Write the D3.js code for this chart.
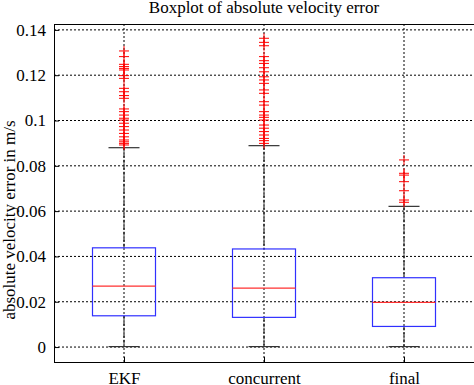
<!DOCTYPE html>
<html>
<head>
<meta charset="utf-8">
<script src="https://cdn.jsdelivr.net/npm/d3@7"></script>
<style>
  body { margin: 0; background: #fff; }
  svg { display: block; font-family: "Liberation Serif", "DejaVu Serif", serif; }
  svg text { font-family: "Liberation Serif", "DejaVu Serif", serif; }
</style>
</head>
<body>
<svg id="chart" width="474" height="385"></svg>
<script>
var categories = ['EKF', 'concurrent', 'final'];
var q1 = [0.0138, 0.0131, 0.0091];
var medians = [0.0269, 0.0260, 0.0197];
var q3 = [0.0438, 0.0433, 0.0306];
var lowerWhisker = [0.0002, 0.0002, 0.0002];
var upperWhisker = [0.0880, 0.0889, 0.0621];
var outliersEKF = [0.1307, 0.1282, 0.1248, 0.1238, 0.1230, 0.1223, 0.1198, 0.1186, 0.1142, 0.1127,
    0.1110, 0.1098, 0.1051, 0.1039, 0.1024, 0.1010, 0.1002, 0.0988, 0.0973, 0.0958, 0.0943,
    0.0928, 0.0914, 0.0906, 0.0899, 0.0892];
var outliersConcurrent = [0.1363, 0.1345, 0.1330, 0.1282, 0.1264, 0.1252, 0.1233, 0.1215, 0.1193,
    0.1179, 0.1164, 0.1135, 0.1120, 0.1083, 0.1068, 0.1039, 0.1024, 0.1014, 0.1002, 0.0980,
    0.0966, 0.0951, 0.0936, 0.0921, 0.0911, 0.0899];
var outliersFinal = [0.0826, 0.0767, 0.0759, 0.0730, 0.0690, 0.0649, 0.0639];
var yTicks = [0, 0.02, 0.04, 0.06, 0.08, 0.1, 0.12, 0.14];

var svg = d3.select('#chart');
var plotLeft = 54, plotRight = 474, plotTop = 24, plotBottom = 362;
var fontSize = 17;

var x = d3.scaleLinear().domain([0.5, 3.5]).range([plotLeft, plotRight]);
var y = d3.scaleLinear().domain([-0.0066, 0.1426]).range([plotBottom, plotTop]);

// grid
svg.append('g').selectAll('line').data(yTicks).enter().append('line')
    .attr('x1', plotLeft).attr('x2', plotRight)
    .attr('y1', function (d) { return y(d); }).attr('y2', function (d) { return y(d); })
    .attr('stroke', '#000').attr('stroke-width', 1).attr('stroke-dasharray', '2,2');
svg.append('g').selectAll('line').data(categories).enter().append('line')
    .attr('x1', function (d, i) { return x(i + 1); }).attr('x2', function (d, i) { return x(i + 1); })
    .attr('y1', plotTop).attr('y2', plotBottom)
    .attr('stroke', '#000').attr('stroke-width', 1).attr('stroke-dasharray', '2,2');

// axes
var yAxis = d3.axisLeft(y).tickValues(yTicks).tickSize(-5).tickPadding(8)
    .tickFormat(function (d) { return d === 0 ? '0' : String(+d.toFixed(2)); });
var gy = svg.append('g').attr('transform', 'translate(' + plotLeft + ',0)').call(yAxis)
    .attr('font-family', null).attr('font-size', fontSize);
gy.select('.domain').remove();
gy.selectAll('text').attr('fill', '#000');

var xAxis = d3.axisBottom(x).tickValues([1, 2, 3]).tickSize(-5).tickPadding(10)
    .tickFormat(function (d) { return categories[d - 1]; });
var gx = svg.append('g').attr('transform', 'translate(0,' + plotBottom + ')').call(xAxis)
    .attr('font-family', null).attr('font-size', fontSize);
gx.select('.domain').remove();
gx.selectAll('text').attr('fill', '#000');

svg.append('rect').attr('x', plotLeft + 0.5).attr('y', plotTop + 0.5)
    .attr('width', plotRight - plotLeft + 2).attr('height', plotBottom - plotTop)
    .attr('fill', 'none').attr('stroke', '#000').attr('stroke-width', 1);

// boxes
var halfBox = 31.5, halfCap = 15.5;
var boxes = svg.append('g').selectAll('g').data(categories).enter().append('g');

boxes.append('line')
    .attr('x1', function (d, i) { return x(i + 1); }).attr('x2', function (d, i) { return x(i + 1); })
    .attr('y1', function (d, i) { return y(upperWhisker[i]); }).attr('y2', function (d, i) { return y(q3[i]); })
    .attr('stroke', '#000').attr('stroke-dasharray', '4,2');
boxes.append('line')
    .attr('x1', function (d, i) { return x(i + 1); }).attr('x2', function (d, i) { return x(i + 1); })
    .attr('y1', function (d, i) { return y(q1[i]); }).attr('y2', function (d, i) { return y(lowerWhisker[i]); })
    .attr('stroke', '#000').attr('stroke-dasharray', '4,2');

[upperWhisker, lowerWhisker].forEach(function (arr) {
    boxes.append('line')
        .attr('x1', function (d, i) { return x(i + 1) - halfCap; }).attr('x2', function (d, i) { return x(i + 1) + halfCap; })
        .attr('y1', function (d, i) { return y(arr[i]); }).attr('y2', function (d, i) { return y(arr[i]); })
        .attr('stroke', '#333').attr('stroke-width', 1.2);
});

boxes.append('rect')
    .attr('x', function (d, i) { return x(i + 1) - halfBox; })
    .attr('y', function (d, i) { return y(q3[i]); })
    .attr('width', halfBox * 2)
    .attr('height', function (d, i) { return y(q1[i]) - y(q3[i]); })
    .attr('fill', 'none').attr('stroke', '#3030ff').attr('stroke-width', 1.2);

boxes.append('line')
    .attr('x1', function (d, i) { return x(i + 1) - halfBox; }).attr('x2', function (d, i) { return x(i + 1) + halfBox; })
    .attr('y1', function (d, i) { return y(medians[i]); }).attr('y2', function (d, i) { return y(medians[i]); })
    .attr('stroke', '#ff3030').attr('stroke-width', 1.2);

// outliers
var outliers = [outliersEKF, outliersConcurrent, outliersFinal];
outliers.forEach(function (list, i) {
    svg.append('g').selectAll('path').data(list).enter().append('path')
        .attr('d', function (v) {
            var cx = x(i + 1), cy = y(v);
            return 'M' + (cx - 5) + ',' + cy + 'H' + (cx + 5) + 'M' + cx + ',' + (cy - 5) + 'V' + (cy + 5);
        })
        .attr('stroke', '#ff0000').attr('stroke-width', 1).attr('fill', 'none');
});

// title and label
svg.append('text').attr('x', (plotLeft + plotRight) / 2).attr('y', 13)
    .attr('text-anchor', 'middle').attr('font-size', fontSize).text('Boxplot of absolute velocity error');
svg.append('text').attr('transform', 'translate(15,220) rotate(-90)')
    .attr('text-anchor', 'middle').attr('font-size', fontSize).text('absolute velocity error in m/s');
</script>
</body>
</html>
